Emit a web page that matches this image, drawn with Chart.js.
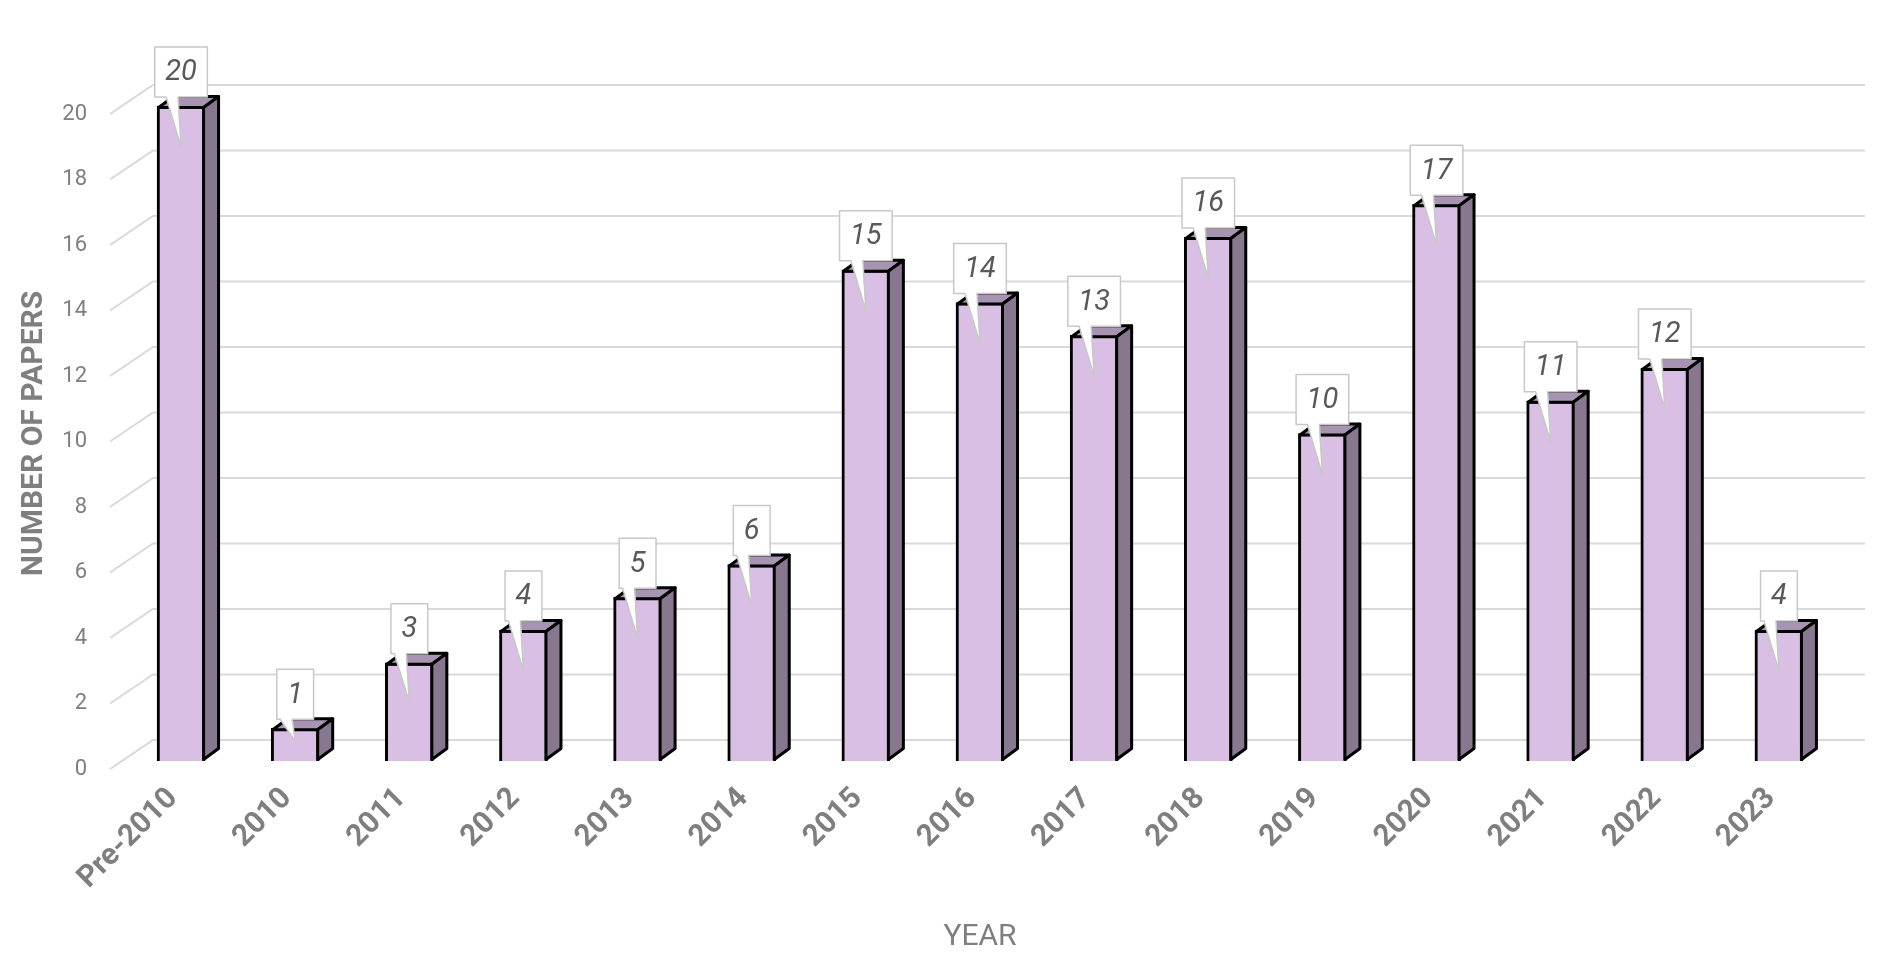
<!DOCTYPE html>
<html>
<head>
<meta charset="utf-8">
<script src="https://cdn.jsdelivr.net/npm/chart.js@4"></script>
<style>
    html, body { margin: 0; padding: 0; background: #fff; }
    #wrap { width: 1904px; height: 978px; }
</style>
</head>
<body>
<div id="wrap"><canvas id="papersChart"></canvas></div>
<script>
// data
const years = ['Pre-2010', '2010', '2011', '2012', '2013', '2014', '2015', '2016', '2017', '2018', '2019', '2020', '2021', '2022', '2023'];
const paperCounts = [20, 1, 3, 4, 5, 6, 15, 14, 13, 16, 10, 17, 11, 12, 4];
const yTicks = [0, 2, 4, 6, 8, 10, 12, 14, 16, 18, 20];

const grey = '#7f7f7f';
const depthX = 15, depthY = -11;

// floor/back-wall style gridlines
const gridLines3d = {
    id: 'gridLines3d',
    beforeDatasetsDraw(chart) {
        const { ctx, chartArea, scales: { y } } = chart;
        ctx.save();
        ctx.strokeStyle = '#d9d9d9';
        ctx.lineWidth = 2;
        yTicks.forEach(function (v) {
            const py = y.getPixelForValue(v);
            ctx.beginPath();
            ctx.moveTo(chartArea.left - 14, py + 8);
            ctx.lineTo(chartArea.left + 29, py - 21);
            ctx.lineTo(chartArea.right + 29, py - 21);
            ctx.stroke();
        });
        ctx.restore();
    }
};

// top + side faces of each bar, then the callouts
const bars3d = {
    id: 'bars3d',
    afterDatasetsDraw(chart) {
        const { ctx } = chart;
        const meta = chart.getDatasetMeta(0);
        ctx.save();
        ctx.lineWidth = 3;
        ctx.lineJoin = 'round';
        ctx.strokeStyle = '#000';
        meta.data.forEach(function (bar) {
            const x0 = bar.x - bar.width / 2 + 1.5;
            const x1 = bar.x + bar.width / 2 - 1.5;
            const yt = bar.y + 1.5;
            const yb = bar.base - 1.5;
            // top
            ctx.beginPath();
            ctx.moveTo(x0, yt);
            ctx.lineTo(x0 + depthX, yt + depthY);
            ctx.lineTo(x1 + depthX, yt + depthY);
            ctx.lineTo(x1, yt);
            ctx.closePath();
            ctx.fillStyle = '#a793b2';
            ctx.fill();
            ctx.stroke();
            // side
            ctx.beginPath();
            ctx.moveTo(x1, yt);
            ctx.lineTo(x1 + depthX, yt + depthY);
            ctx.lineTo(x1 + depthX, yb + depthY);
            ctx.lineTo(x1, yb);
            ctx.closePath();
            ctx.fillStyle = '#877890';
            ctx.fill();
            ctx.stroke();
        });

        // value callouts
        ctx.font = 'italic 29px Roboto';
        ctx.textAlign = 'center';
        ctx.textBaseline = 'middle';
        meta.data.forEach(function (bar, i) {
            const label = String(paperCounts[i]);
            const w = ctx.measureText(label).width + 21;
            const cx = bar.x;
            const top = bar.y - 59;
            const bottom = bar.y - 9;
            const left = cx - w / 2, right = cx + w / 2;
            const tip = bar.y + Math.min(41, (bar.base - bar.y) * 0.4);
            ctx.beginPath();
            ctx.moveTo(left, top);
            ctx.lineTo(right, top);
            ctx.lineTo(right, bottom);
            ctx.lineTo(cx - 3, bottom);
            ctx.lineTo(cx, tip);
            ctx.lineTo(cx - 15, bottom);
            ctx.lineTo(left, bottom);
            ctx.closePath();
            ctx.fillStyle = '#fff';
            ctx.fill();
            ctx.lineWidth = 1.5;
            ctx.strokeStyle = '#c8c8c8';
            ctx.stroke();
            ctx.fillStyle = '#595959';
            ctx.fillText(label, cx, (top + bottom) / 2 + 1);
        });
        ctx.restore();
    }
};

document.addEventListener('DOMContentLoaded', function () {
    const ctx = document.getElementById('papersChart').getContext('2d');
    new Chart(ctx, {
        type: 'bar',
        data: {
            labels: years,
            datasets: [
                {
                    label: 'Number of papers',
                    data: paperCounts,
                    backgroundColor: '#d9bfe4',
                    borderColor: '#000',
                    borderWidth: 3,
                    barThickness: 48,
                },
            ],
        },
        options: {
            responsive: true,
            maintainAspectRatio: false,
            animation: false,
            layout: { padding: { left: 0, right: 68, top: 106, bottom: 0 } },
            plugins: {
                legend: { display: false },
                tooltip: { enabled: false },
            },
            scales: {
                x: {
                    grid: { display: false, drawTicks: false },
                    border: { display: false },
                    ticks: {
                        color: grey,
                        font: { family: 'Roboto', size: 30, weight: 'bold' },
                        minRotation: 45,
                        maxRotation: 45,
                        padding: 20,
                        labelOffset: -8,
                    },
                    title: {
                        display: true,
                        text: 'YEAR',
                        color: grey,
                        font: { family: 'Roboto', size: 30 },
                        padding: { top: 0, bottom: 23 },
                    },
                    afterFit(scale) { scale.height = 217; },
                },
                y: {
                    min: 0,
                    max: 20,
                    grid: { display: false, drawTicks: false },
                    border: { display: false },
                    afterBuildTicks(scale) {
                        scale.ticks = yTicks.map(function (v) { return { value: v }; });
                    },
                    ticks: {
                        color: grey,
                        font: { family: 'Roboto', size: 22 },
                        padding: 37,
                        labelOffset: 8,
                    },
                    title: {
                        display: true,
                        text: 'NUMBER OF PAPERS',
                        color: grey,
                        font: { family: 'Roboto', size: 30, weight: 'bold' },
                        padding: { top: 16, bottom: 0 },
                    },
                    afterFit(scale) { scale.width = 124; },
                },
            },
        },
        plugins: [gridLines3d, bars3d],
    });
});
</script>
</body>
</html>
